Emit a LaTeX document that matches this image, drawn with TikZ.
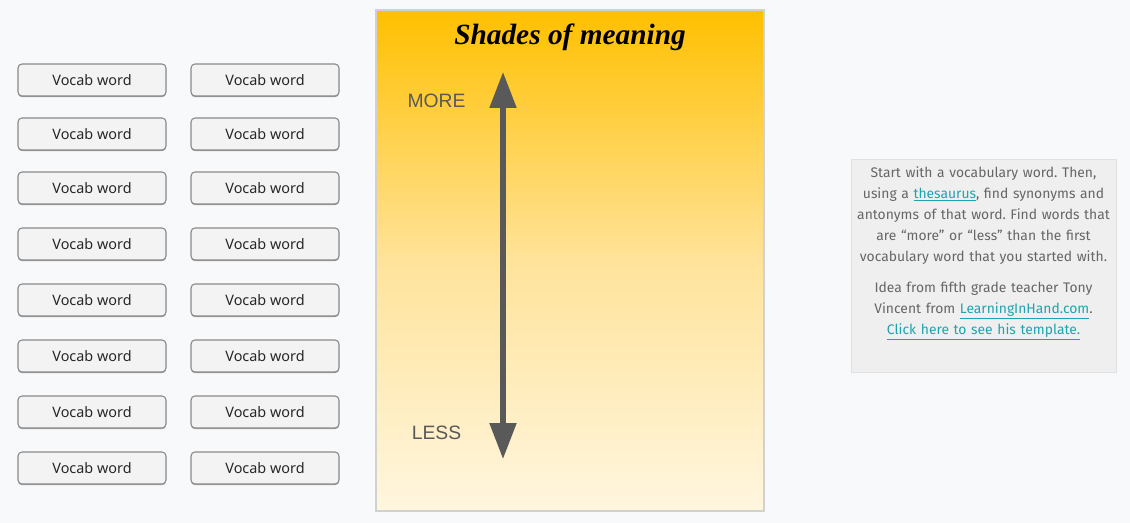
\documentclass[tikz,border=0pt]{standalone}
\usepackage{fontspec}
\usetikzlibrary{arrows.meta,shadows}
\newfontfamily\vocabfont{Noto Sans}
\newfontfamily\notefont{Fira Sans}
\newfontfamily\titlefont{Liberation Serif}
\newfontfamily\labelfont{Liberation Sans}
\definecolor{bg}{HTML}{F8F9FA}
\definecolor{boxfill}{HTML}{F3F3F3}
\definecolor{boxline}{HTML}{8A8A8A}
\definecolor{ytop}{HTML}{FFC000}
\definecolor{ymid}{HTML}{FFE39A}
\definecolor{ybot}{HTML}{FFF6DF}
\definecolor{arrowgray}{HTML}{595959}
\definecolor{notefill}{HTML}{EFEFEF}
\definecolor{notetext}{HTML}{666666}
\definecolor{linkc}{HTML}{1FA3AF}
\tikzset{
  vocab/.style={draw=boxline, line width=0.8pt, fill=boxfill, rounded corners=3pt,
    minimum width=111pt, minimum height=24pt, inner sep=0pt,
    font=\vocabfont\fontsize{10.8}{12}\selectfont, text=black!85,
    drop shadow={shadow xshift=0pt, shadow yshift=-0.9pt, opacity=0.35, fill=black}},
  sidelabel/.style={font=\labelfont\fontsize{14.5}{17}\selectfont, text=arrowgray},
  link/.style={text=linkc}
}
\begin{document}
\frenchspacing
\begin{tikzpicture}[x=0.75pt,y=-0.75pt]
\fill[bg] (0,0) rectangle (1130,523);
\useasboundingbox (0,0) rectangle (1130,523);
% vocab boxes
\foreach \r/\yy in {1/80,2/134,3/188,4/244,5/300,6/356,7/412,8/468}{
  \node[vocab] (L\r) at (92,\yy) {Vocab word};
  \node[vocab] (R\r) at (265,\yy) {Vocab word};
}
% panel
\shade[top color=ytop, bottom color=ybot, middle color=ymid, draw=black!18, line width=0.8pt]
  (376,10) rectangle (764,511);
\node (panel) at (570,260.5) [minimum width=291pt, minimum height=375.75pt] {};
\node[font=\titlefont\bfseries\itshape\fontsize{22}{24}\selectfont, text=black] (title) at (570,37) {Shades of meaning};
\coordinate (atop) at (503,72);
\coordinate (abot) at (503,459);
\draw[arrowgray, line width=3.9pt, {Triangle[width=19.5pt,length=27pt]}-{Triangle[width=19.5pt,length=27pt]}] (atop) -- (abot);
\node[sidelabel] (more) at (436.5,101) {MORE};
\node[sidelabel] (less) at (436.5,433) {LESS};
% note
\node[draw=black!12, fill=notefill, line width=0.6pt, minimum width=198.75pt, minimum height=159.75pt,
  drop shadow={shadow xshift=0.6pt, shadow yshift=-1pt, opacity=0.35, fill=black}] (note) at (983.5,265.5) {};
\node[anchor=north, text width=196pt, align=center, text=notetext,
  font=\notefont\fontsize{10.4}{15.75}\selectfont, inner sep=0pt] (notetxt) at (983.5,166.5)
  {Start with a vocabulary word. Then,\\ using a \textcolor{linkc}{\underline{thesaurus}}, find synonyms and\\ antonyms of that word. Find words that\\ are “more” or “less” than the first\\ vocabulary word that you started with.\par\vspace{7.5pt}
  Idea from fifth grade teacher Tony\\ Vincent from \textcolor{linkc}{\underline{LearningInHand.com}}.\\ \textcolor{linkc}{\underline{Click here to see his template.}}};
\end{tikzpicture}
\end{document}
